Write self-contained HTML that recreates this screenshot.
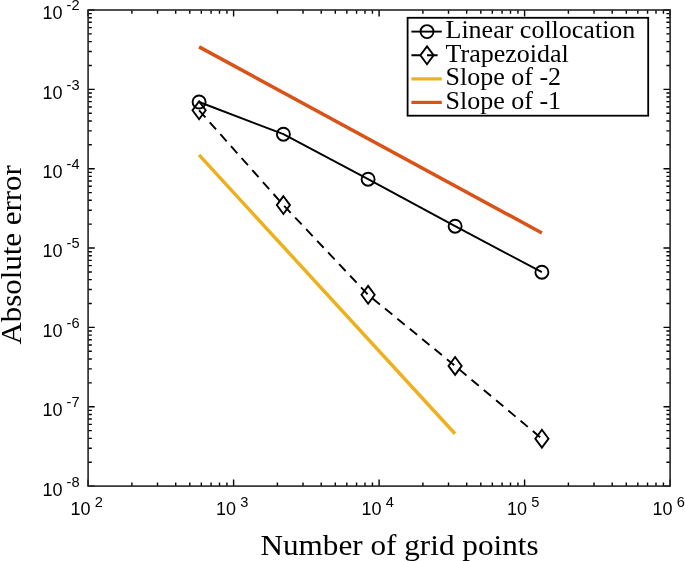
<!DOCTYPE html>
<html><head><meta charset="utf-8"><title>Absolute error vs number of grid points</title><style>
html,body{margin:0;padding:0;background:#fff;overflow:hidden}svg{display:block}
.tk{font-family:"Liberation Sans",Arial,Helvetica,sans-serif;fill:#000}
.lx{font-family:"Liberation Serif","Times New Roman",serif;fill:#000}
</style></head><body>
<svg width="685" height="561" viewBox="0 0 685 561">
<rect width="685" height="561" fill="#fff"/>
<path d="M88.10 486.10V479.50M88.10 10.00V16.60M131.90 486.10V482.40M131.90 10.00V13.70M157.52 486.10V482.40M157.52 10.00V13.70M175.70 486.10V482.40M175.70 10.00V13.70M189.80 486.10V482.40M189.80 10.00V13.70M201.32 486.10V482.40M201.32 10.00V13.70M211.06 486.10V482.40M211.06 10.00V13.70M219.50 486.10V482.40M219.50 10.00V13.70M226.94 486.10V482.40M226.94 10.00V13.70M233.60 486.10V479.50M233.60 10.00V16.60M277.40 486.10V482.40M277.40 10.00V13.70M303.02 486.10V482.40M303.02 10.00V13.70M321.20 486.10V482.40M321.20 10.00V13.70M335.30 486.10V482.40M335.30 10.00V13.70M346.82 486.10V482.40M346.82 10.00V13.70M356.56 486.10V482.40M356.56 10.00V13.70M365.00 486.10V482.40M365.00 10.00V13.70M372.44 486.10V482.40M372.44 10.00V13.70M379.10 486.10V479.50M379.10 10.00V16.60M422.90 486.10V482.40M422.90 10.00V13.70M448.52 486.10V482.40M448.52 10.00V13.70M466.70 486.10V482.40M466.70 10.00V13.70M480.80 486.10V482.40M480.80 10.00V13.70M492.32 486.10V482.40M492.32 10.00V13.70M502.06 486.10V482.40M502.06 10.00V13.70M510.50 486.10V482.40M510.50 10.00V13.70M517.94 486.10V482.40M517.94 10.00V13.70M524.60 486.10V479.50M524.60 10.00V16.60M568.40 486.10V482.40M568.40 10.00V13.70M594.02 486.10V482.40M594.02 10.00V13.70M612.20 486.10V482.40M612.20 10.00V13.70M626.30 486.10V482.40M626.30 10.00V13.70M637.82 486.10V482.40M637.82 10.00V13.70M647.56 486.10V482.40M647.56 10.00V13.70M656.00 486.10V482.40M656.00 10.00V13.70M663.44 486.10V482.40M663.44 10.00V13.70M670.10 486.10V479.50M670.10 10.00V16.60M88.10 486.10H94.70M670.10 486.10H663.50M88.10 462.21H91.80M670.10 462.21H666.40M88.10 448.24H91.80M670.10 448.24H666.40M88.10 438.33H91.80M670.10 438.33H666.40M88.10 430.64H91.80M670.10 430.64H666.40M88.10 424.35H91.80M670.10 424.35H666.40M88.10 419.04H91.80M670.10 419.04H666.40M88.10 414.44H91.80M670.10 414.44H666.40M88.10 410.38H91.80M670.10 410.38H666.40M88.10 406.75H94.70M670.10 406.75H663.50M88.10 382.86H91.80M670.10 382.86H666.40M88.10 368.89H91.80M670.10 368.89H666.40M88.10 358.98H91.80M670.10 358.98H666.40M88.10 351.29H91.80M670.10 351.29H666.40M88.10 345.00H91.80M670.10 345.00H666.40M88.10 339.69H91.80M670.10 339.69H666.40M88.10 335.09H91.80M670.10 335.09H666.40M88.10 331.03H91.80M670.10 331.03H666.40M88.10 327.40H94.70M670.10 327.40H663.50M88.10 303.51H91.80M670.10 303.51H666.40M88.10 289.54H91.80M670.10 289.54H666.40M88.10 279.63H91.80M670.10 279.63H666.40M88.10 271.94H91.80M670.10 271.94H666.40M88.10 265.65H91.80M670.10 265.65H666.40M88.10 260.34H91.80M670.10 260.34H666.40M88.10 255.74H91.80M670.10 255.74H666.40M88.10 251.68H91.80M670.10 251.68H666.40M88.10 248.05H94.70M670.10 248.05H663.50M88.10 224.16H91.80M670.10 224.16H666.40M88.10 210.19H91.80M670.10 210.19H666.40M88.10 200.28H91.80M670.10 200.28H666.40M88.10 192.59H91.80M670.10 192.59H666.40M88.10 186.30H91.80M670.10 186.30H666.40M88.10 180.99H91.80M670.10 180.99H666.40M88.10 176.39H91.80M670.10 176.39H666.40M88.10 172.33H91.80M670.10 172.33H666.40M88.10 168.70H94.70M670.10 168.70H663.50M88.10 144.81H91.80M670.10 144.81H666.40M88.10 130.84H91.80M670.10 130.84H666.40M88.10 120.93H91.80M670.10 120.93H666.40M88.10 113.24H91.80M670.10 113.24H666.40M88.10 106.95H91.80M670.10 106.95H666.40M88.10 101.64H91.80M670.10 101.64H666.40M88.10 97.04H91.80M670.10 97.04H666.40M88.10 92.98H91.80M670.10 92.98H666.40M88.10 89.35H94.70M670.10 89.35H663.50M88.10 65.46H91.80M670.10 65.46H666.40M88.10 51.49H91.80M670.10 51.49H666.40M88.10 41.58H91.80M670.10 41.58H666.40M88.10 33.89H91.80M670.10 33.89H666.40M88.10 27.60H91.80M670.10 27.60H666.40M88.10 22.29H91.80M670.10 22.29H666.40M88.10 17.69H91.80M670.10 17.69H666.40M88.10 13.63H91.80M670.10 13.63H666.40M88.10 10.00H94.70M670.10 10.00H663.50" stroke="#000" stroke-width="1.4" fill="none"/>
<rect x="88.1" y="10.0" width="582.00" height="476.10" fill="none" stroke="#262626" stroke-width="1.6"/>
<text class="tk" x="70.60" y="515.3" font-size="18">10</text>
<text class="tk" x="94.70" y="506.8" font-size="14.6">2</text>
<text class="tk" x="216.10" y="515.3" font-size="18">10</text>
<text class="tk" x="240.20" y="506.8" font-size="14.6">3</text>
<text class="tk" x="361.60" y="515.3" font-size="18">10</text>
<text class="tk" x="385.70" y="506.8" font-size="14.6">4</text>
<text class="tk" x="507.10" y="515.3" font-size="18">10</text>
<text class="tk" x="531.20" y="506.8" font-size="14.6">5</text>
<text class="tk" x="652.60" y="515.3" font-size="18">10</text>
<text class="tk" x="676.70" y="506.8" font-size="14.6">6</text>
<text class="tk" x="42.6" y="19.40" font-size="18">10</text>
<text class="tk" x="66.6" y="10.40" font-size="14.6">-2</text>
<text class="tk" x="42.6" y="98.75" font-size="18">10</text>
<text class="tk" x="66.6" y="89.75" font-size="14.6">-3</text>
<text class="tk" x="42.6" y="178.10" font-size="18">10</text>
<text class="tk" x="66.6" y="169.10" font-size="14.6">-4</text>
<text class="tk" x="42.6" y="257.45" font-size="18">10</text>
<text class="tk" x="66.6" y="248.45" font-size="14.6">-5</text>
<text class="tk" x="42.6" y="336.80" font-size="18">10</text>
<text class="tk" x="66.6" y="327.80" font-size="14.6">-6</text>
<text class="tk" x="42.6" y="416.15" font-size="18">10</text>
<text class="tk" x="66.6" y="407.15" font-size="14.6">-7</text>
<text class="tk" x="42.6" y="495.50" font-size="18">10</text>
<text class="tk" x="66.6" y="486.50" font-size="14.6">-8</text>
<line x1="199.1" y1="46.9" x2="541.9" y2="233.0" stroke="#D95319" stroke-width="3.5"/>
<line x1="199.0" y1="154.9" x2="455.0" y2="433.7" stroke="#EDB120" stroke-width="3.5"/>
<polyline points="199.1,102.0 283.4,134.2 368.1,179.2 455.1,226.2 541.9,272.2" fill="none" stroke="#000" stroke-width="1.9"/>
<polyline points="199.1,110.3 283.4,205.1 368.1,294.8 455.1,365.9 541.9,438.7" fill="none" stroke="#000" stroke-width="1.9" stroke-dasharray="9.5 6.5"/>
<circle cx="199.1" cy="102.0" r="6.5" fill="none" stroke="#000" stroke-width="1.9"/>
<circle cx="283.4" cy="134.2" r="6.5" fill="none" stroke="#000" stroke-width="1.9"/>
<circle cx="368.1" cy="179.2" r="6.5" fill="none" stroke="#000" stroke-width="1.9"/>
<circle cx="455.1" cy="226.2" r="6.5" fill="none" stroke="#000" stroke-width="1.9"/>
<circle cx="541.9" cy="272.2" r="6.5" fill="none" stroke="#000" stroke-width="1.9"/>
<path d="M199.1 101.39999999999999L205.7 110.3L199.1 119.2L192.5 110.3Z" fill="none" stroke="#000" stroke-width="1.9"/>
<path d="M283.4 196.2L290.0 205.1L283.4 214.0L276.79999999999995 205.1Z" fill="none" stroke="#000" stroke-width="1.9"/>
<path d="M368.1 285.90000000000003L374.70000000000005 294.8L368.1 303.7L361.5 294.8Z" fill="none" stroke="#000" stroke-width="1.9"/>
<path d="M455.1 357.0L461.70000000000005 365.9L455.1 374.79999999999995L448.5 365.9Z" fill="none" stroke="#000" stroke-width="1.9"/>
<path d="M541.9 429.8L548.5 438.7L541.9 447.59999999999997L535.3 438.7Z" fill="none" stroke="#000" stroke-width="1.9"/>
<rect x="407.6" y="17.8" width="240.6" height="97.9" fill="#fff" stroke="#000" stroke-width="1.8"/>
<line x1="411.4" y1="31.6" x2="441.8" y2="31.6" stroke="#000" stroke-width="1.9"/>
<circle cx="427" cy="31.6" r="6.5" fill="none" stroke="#000" stroke-width="1.9"/>
<path d="M411.4 55.3H420.4M427 55.3H437.6" stroke="#000" stroke-width="1.9"/>
<path d="M427 46.4L433.6 55.3L427 64.2L420.4 55.3Z" fill="none" stroke="#000" stroke-width="1.9"/>
<line x1="411.4" y1="78.9" x2="441.8" y2="78.9" stroke="#EDB120" stroke-width="3.2"/>
<line x1="411.4" y1="102.4" x2="441.8" y2="102.4" stroke="#D95319" stroke-width="3.2"/>
<text class="lx" x="445.5" y="37.80" font-size="26">Linear collocation</text>
<text class="lx" x="445.5" y="61.50" font-size="26">Trapezoidal</text>
<text class="lx" x="445.5" y="85.10" font-size="26">Slope of -2</text>
<text class="lx" x="445.5" y="108.60" font-size="26">Slope of -1</text>
<text class="lx" x="260.5" y="554.8" font-size="30" transform="translate(260.5 0) scale(1.04 1) translate(-260.5 0)">Number of grid points</text>
<text class="lx" font-size="30" transform="translate(20.9 344.5) rotate(-90) scale(1.03 1)">Absolute error</text>
</svg></body></html>
